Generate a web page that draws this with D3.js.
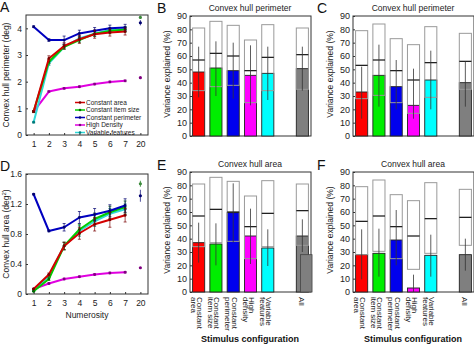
<!DOCTYPE html>
<html>
<head>
<meta charset="utf-8">
<script src="https://d3js.org/d3.v7.min.js"></script>
<style>
  body { margin:0; background:#fff; }
  svg { display:block; font-family:"Liberation Sans", Arial, sans-serif; }
  .frame { fill:none; stroke:#333; stroke-width:1; }
  .axis path { display:none; }
  .axis line { stroke:#333; }
  .axis text { font-size:8.5px; fill:#222; }
  .bars .axis text { font-size:9px; }
  .letter { font-size:14px; fill:#111; }
  .title, .ylab { font-size:8.5px; fill:#222; text-anchor:middle; }
  .legend text { font-size:6.5px; fill:#222; }
  .xcat { font-size:8px; fill:#222; }
  .xname { font-size:9px; font-weight:bold; fill:#111; text-anchor:middle; }
</style>
</head>
<body>
<script>
// numerosity conditions (20 is drawn apart, without a connecting line)
var numerosity = ["1", "2", "3", "4", "5", "6", "7", "20"];
var lineSeries = ["Constant area", "Constant item size", "Constant perimeter", "High Density", "Variable features"];

// convex hull perimeter (deg), numerosity 1..7
var perimArea     = [0.88, 2.87, 3.34, 3.59, 3.78, 3.84, 3.88];
var perimItem     = [0.88, 2.75, 3.31, 3.56, 3.80, 3.90, 3.96];
var perimPerim    = [4.06, 3.56, 3.56, 3.81, 3.91, 4.00, 4.03];
var perimDensity  = [0.88, 1.63, 1.75, 1.81, 1.91, 1.99, 2.03];
var perimVariable = [0.48, 2.69, 3.30, 3.62, 3.80, 3.94, 3.97];
var perimAreaErr     = [0.04, 0.10, 0.12, 0.15, 0.15, 0.13, 0.13];
var perimItemErr     = [0.03, 0.08, 0.08, 0.10, 0.10, 0.10, 0.10];
var perimPerimErr    = [0.03, 0.05, 0.15, 0.12, 0.12, 0.12, 0.12];
var perimDensityErr  = [0.02, 0.03, 0.03, 0.03, 0.03, 0.03, 0.03];
var perimVariableErr = [0.03, 0.08, 0.08, 0.10, 0.10, 0.08, 0.08];
var perim20    = [null, 4.41, 4.21, 2.15, null];
var perim20Err = [0, 0.06, 0.10, 0.02, 0];

// convex hull area (deg^2), numerosity 1..7
var areaArea     = [0.067, 0.26, 0.64, 0.81, 0.93, 0.99, 1.05];
var areaItem     = [0.036, 0.20, 0.64, 0.86, 1.00, 1.09, 1.16];
var areaPerim    = [1.33, 0.84, 0.89, 1.02, 1.06, 1.11, 1.18];
var areaDensity  = [0.067, 0.14, 0.20, 0.23, 0.26, 0.28, 0.29];
var areaVariable = [0.04, 0.24, 0.64, 0.84, 0.97, 1.07, 1.13];
var areaAreaErr     = [0.005, 0.02, 0.05, 0.08, 0.09, 0.10, 0.09];
var areaItemErr     = [0.005, 0.02, 0.05, 0.07, 0.08, 0.08, 0.08];
var areaPerimErr    = [0.01, 0.01, 0.05, 0.08, 0.08, 0.08, 0.09];
var areaDensityErr  = [0.003, 0.01, 0.01, 0.01, 0.01, 0.01, 0.01];
var areaVariableErr = [0.005, 0.02, 0.05, 0.07, 0.07, 0.07, 0.07];
var area20    = [null, 1.47, 1.31, 0.35, null];
var area20Err = [0, 0.04, 0.08, 0.01, 0];

// variance explained (%) per stimulus configuration
var configs = ["Constant area", "Constant item size", "Constant perimeter", "High density", "Variable features", "All"];
var configLines = [["Constant", "area"], ["Constant", "item size"], ["Constant", "perimeter"], ["High", "density"], ["Variable", "features"], ["All"]];

// noise ceiling (lower, upper, middle) - shared by B/E and by C/F
var ceilLoBE  = [34, 37, 38, 25, 34, 35];
var ceilHiBE  = [81, 86, 83, 72, 83.5, 81];
var ceilMidBE = [57, 62, 60, 49, 59, 61];
var ceilLoCF  = [28, 30.5, 25, 17, 29, 35];
var ceilHiCF  = [79, 84, 73, 68.5, 82, 77];
var ceilMidCF = [53, 57, 49, 42, 55, 56];

var meanB = [48, 51, 49, 45.5, 47, 50.5];
var loB   = [29, 30, 28, 23, 27, 34];
var hiB   = [67, 71, 70, 68, 67, 67];
var meanC = [33, 45.5, 37, 23, 42, 40];
var loC   = [13, 22, 20, 13, 20, 22];
var hiC   = [52, 68.5, 57, 50.5, 64, 56];
var meanE = [37, 36, 59.5, 42, 33, 42];
var loE   = [22, 20, 37, 21, 19.5, 30];
var hiE   = [52, 51.5, 81.5, 62.5, 47, 54.5];
var meanF = [28, 29, 39, 3, 27.5, 28];
var loF   = [9.5, 11.5, 20, 0, 11.5, 16];
var hiF   = [47, 47.5, 61.5, 13, 43, 40];
var extraAllE = 28;

var lineCol = ["#d40000", "#00cc00", "#0000c0", "#e000e0", "#30d8d8"];
var dotCol  = ["#7a0000", "#006a00", "#000070", "#800080", "#007a7a"];
var barCol  = ["#ff0000", "#00ee00", "#0000ee", "#ff00ff", "#00ffff", "#7f7f7f"];
var drawOrder = [3, 4, 1, 2, 0];

var svg = d3.select("body").append("svg")
    .attr("width", 474)
    .attr("height", 345);

function letter(t, x, y) {
  svg.append("text").attr("class", "letter").attr("x", x).attr("y", y).text(t);
}

function linePanel(cfg) {
  var g = svg.append("g");
  var x = d3.scalePoint().domain(numerosity).range([26, 148]).padding(0.5);
  var y = d3.scaleLinear().domain(cfg.domain).range([cfg.bottom, cfg.top]);

  g.append("g").attr("class", "axis")
    .attr("transform", "translate(26,0)")
    .call(d3.axisLeft(y).tickValues(cfg.ticks).tickFormat(cfg.fmt).tickSize(-2).tickPadding(4));
  g.append("g").attr("class", "axis")
    .attr("transform", "translate(0," + cfg.bottom + ")")
    .call(d3.axisBottom(x).tickSize(-2).tickPadding(6));
  g.append("rect").attr("class", "frame")
    .attr("x", 26).attr("y", cfg.top)
    .attr("width", 122).attr("height", cfg.bottom - cfg.top);

  g.append("text").attr("class", "ylab")
    .attr("transform", "translate(9," + (cfg.top + cfg.bottom) / 2 + ") rotate(-90)")
    .html(cfg.ylabel);

  var line = d3.line()
    .x(function(d, i) { return x(numerosity[i]); })
    .y(function(d) { return y(d); });

  drawOrder.forEach(function(s) {
    var vals = cfg.means[s], errs = cfg.errs[s];
    var sg = g.append("g");
    sg.selectAll(".eb").data(vals).enter().append("path")
      .attr("d", function(d, i) {
        var cx = x(numerosity[i]), y0 = y(d - errs[i]), y1 = y(d + errs[i]);
        return "M" + cx + "," + y0 + "V" + y1 + "M" + (cx - 1.5) + "," + y0 + "h3M" + (cx - 1.5) + "," + y1 + "h3";
      })
      .attr("stroke", dotCol[s]).attr("stroke-width", 0.7).attr("fill", "none");
    sg.append("path").datum(vals)
      .attr("d", line)
      .attr("fill", "none")
      .attr("stroke", lineCol[s])
      .attr("stroke-width", 2)
      .attr("stroke-linejoin", "round");
    sg.selectAll("circle").data(vals).enter().append("circle")
      .attr("cx", function(d, i) { return x(numerosity[i]); })
      .attr("cy", function(d) { return y(d); })
      .attr("r", 1.4)
      .attr("fill", dotCol[s]);
  });

  // numerosity 20, points only
  cfg.at20.forEach(function(v, s) {
    if (v == null) return;
    var cx = x("20"), e = cfg.at20Err[s];
    g.append("path")
      .attr("d", "M" + cx + "," + y(v - e) + "V" + y(v + e))
      .attr("stroke", dotCol[s]).attr("stroke-width", 0.7);
    g.append("circle").attr("cx", cx).attr("cy", y(v)).attr("r", 1.6)
      .attr("fill", s == 1 ? "#3a8a3a" : dotCol[s]);
  });

  if (cfg.legend) {
    var lg = g.append("g").attr("class", "legend");
    lineSeries.forEach(function(name, s) {
      var ly = 102.5 + s * 7.5;
      lg.append("line").attr("x1", 75).attr("x2", 85).attr("y1", ly).attr("y2", ly)
        .attr("stroke", lineCol[s]).attr("stroke-width", 1.5);
      lg.append("circle").attr("cx", 80).attr("cy", ly).attr("r", 1.3).attr("fill", dotCol[s]);
      lg.append("text").attr("x", 86).attr("y", ly + 2.3).text(name);
    });
  }
  if (cfg.xname) {
    g.append("text").attr("x", 87).attr("y", cfg.bottom + 24)
      .attr("text-anchor", "middle").style("font-size", "8.5px").style("fill", "#222")
      .text(cfg.xname);
  }
}

function barPanel(cfg) {
  var g = svg.append("g").attr("class", "bars");
  var slots = configs.slice(0, 5).concat(["gap", "All"]);
  var x = d3.scaleBand().domain(slots).range([cfg.left, cfg.left + 121])
    .paddingInner(0.3).paddingOuter(0.15);
  var y = d3.scaleLinear().domain([0, 90]).range([cfg.bottom, cfg.bottom - 120]);
  var bw = x.bandwidth();
  var key = function(i) { return i == 5 ? "All" : configs[i]; };

  g.append("g").attr("class", "axis")
    .attr("transform", "translate(" + cfg.left + ",0)")
    .call(d3.axisLeft(y).ticks(9).tickSize(-2).tickPadding(3));
  g.append("rect").attr("class", "frame")
    .attr("x", cfg.left).attr("y", y(90))
    .attr("width", 121).attr("height", y(0) - y(90));

  g.append("text").attr("class", "title")
    .attr("x", cfg.left + 60).attr("y", y(90) - 5).text(cfg.title);
  g.append("text").attr("class", "ylab")
    .attr("transform", "translate(" + (cfg.left - 20) + "," + (y(45) - 2) + ") rotate(-90)")
    .text("Variance explained (%)");

  var idx = d3.range(configs.length);
  g.selectAll(".bar").data(idx).enter().append("rect")
    .attr("x", function(i) { return x(key(i)); })
    .attr("y", function(i) { return y(cfg.mean[i]); })
    .attr("width", bw)
    .attr("height", function(i) { return y(0) - y(cfg.mean[i]); })
    .attr("fill", function(i) { return barCol[i]; })
    .attr("stroke", "#222").attr("stroke-width", 0.9);

  if (cfg.extraAll != null) {
    g.append("rect")
      .attr("x", x("All") + bw * 0.35).attr("y", y(cfg.extraAll))
      .attr("width", bw * 0.95).attr("height", y(0) - y(cfg.extraAll))
      .attr("fill", barCol[5]).attr("stroke", "#444").attr("stroke-width", 0.8);
  }

  // noise ceiling boxes
  g.selectAll(".ceil").data(idx).enter().append("rect")
    .attr("x", function(i) { return x(key(i)); })
    .attr("y", function(i) { return y(cfg.ceilHi[i]); })
    .attr("width", bw)
    .attr("height", function(i) { return y(cfg.ceilLo[i]) - y(cfg.ceilHi[i]); })
    .attr("fill", "none").attr("stroke", "#9a9a9a").attr("stroke-width", 1);
  g.selectAll(".mid").data(idx).enter().append("line")
    .attr("x1", function(i) { return x(key(i)); })
    .attr("x2", function(i) { return x(key(i)) + bw; })
    .attr("y1", function(i) { return y(cfg.ceilMid[i]); })
    .attr("y2", function(i) { return y(cfg.ceilMid[i]); })
    .attr("stroke", "#111").attr("stroke-width", 1.2);
  g.selectAll(".err").data(idx).enter().append("line")
    .attr("x1", function(i) { return x(key(i)) + bw / 2; })
    .attr("x2", function(i) { return x(key(i)) + bw / 2; })
    .attr("y1", function(i) { return y(cfg.lo[i]); })
    .attr("y2", function(i) { return y(cfg.hi[i]); })
    .attr("stroke", "#333").attr("stroke-width", 0.8);

  if (cfg.labels) {
    idx.forEach(function(i) {
      var t = g.append("text").attr("class", "xcat")
        .attr("transform", "translate(" + (x(key(i)) + bw / 2) + "," + (y(0) + 5) + ") rotate(90)");
      configLines[i].forEach(function(s, k) {
        t.append("tspan").attr("x", 0).attr("y", k == 0 ? (configLines[i].length > 1 ? 1.5 : 3) : 8).text(s);
      });
    });
    g.append("text").attr("class", "xname")
      .attr("x", cfg.left + 60).attr("y", 342).text("Stimulus configuration");
  }
}

linePanel({ top: 15, bottom: 135, domain: [0, 4.5], ticks: [0, 1, 2, 3, 4], fmt: d3.format("d"),
  ylabel: "Convex hull perimeter (deg)",
  means: [perimArea, perimItem, perimPerim, perimDensity, perimVariable],
  errs: [perimAreaErr, perimItemErr, perimPerimErr, perimDensityErr, perimVariableErr],
  at20: perim20, at20Err: perim20Err, legend: true });

linePanel({ top: 174, bottom: 294, domain: [0, 1.6], ticks: [0, 0.4, 0.8, 1.2, 1.6],
  fmt: function(d) { return d == 0 ? "0" : d3.format(".1f")(d); },
  ylabel: "Convex hull area (deg<tspan dy='-3' style='font-size:6px'>2</tspan><tspan dy='3'>)</tspan>",
  means: [areaArea, areaItem, areaPerim, areaDensity, areaVariable],
  errs: [areaAreaErr, areaItemErr, areaPerimErr, areaDensityErr, areaVariableErr],
  at20: area20, at20Err: area20Err, xname: "Numerosity" });

barPanel({ left: 190, bottom: 136, title: "Convex hull perimeter", mean: meanB, lo: loB, hi: hiB,
  ceilLo: ceilLoBE, ceilHi: ceilHiBE, ceilMid: ceilMidBE });
barPanel({ left: 353, bottom: 136, title: "Convex hull perimeter", mean: meanC, lo: loC, hi: hiC,
  ceilLo: ceilLoCF, ceilHi: ceilHiCF, ceilMid: ceilMidCF });
barPanel({ left: 190, bottom: 292, title: "Convex hull area", mean: meanE, lo: loE, hi: hiE,
  ceilLo: ceilLoBE, ceilHi: ceilHiBE, ceilMid: ceilMidBE, extraAll: extraAllE, labels: true });
barPanel({ left: 353, bottom: 292, title: "Convex hull area", mean: meanF, lo: loF, hi: hiF,
  ceilLo: ceilLoCF, ceilHi: ceilHiCF, ceilMid: ceilMidCF, labels: true });

letter("A", 0, 12);
letter("B", 157, 13);
letter("C", 317, 13);
letter("D", 0, 171);
letter("E", 157, 170);
letter("F", 317, 170);
</script>
</body>
</html>
